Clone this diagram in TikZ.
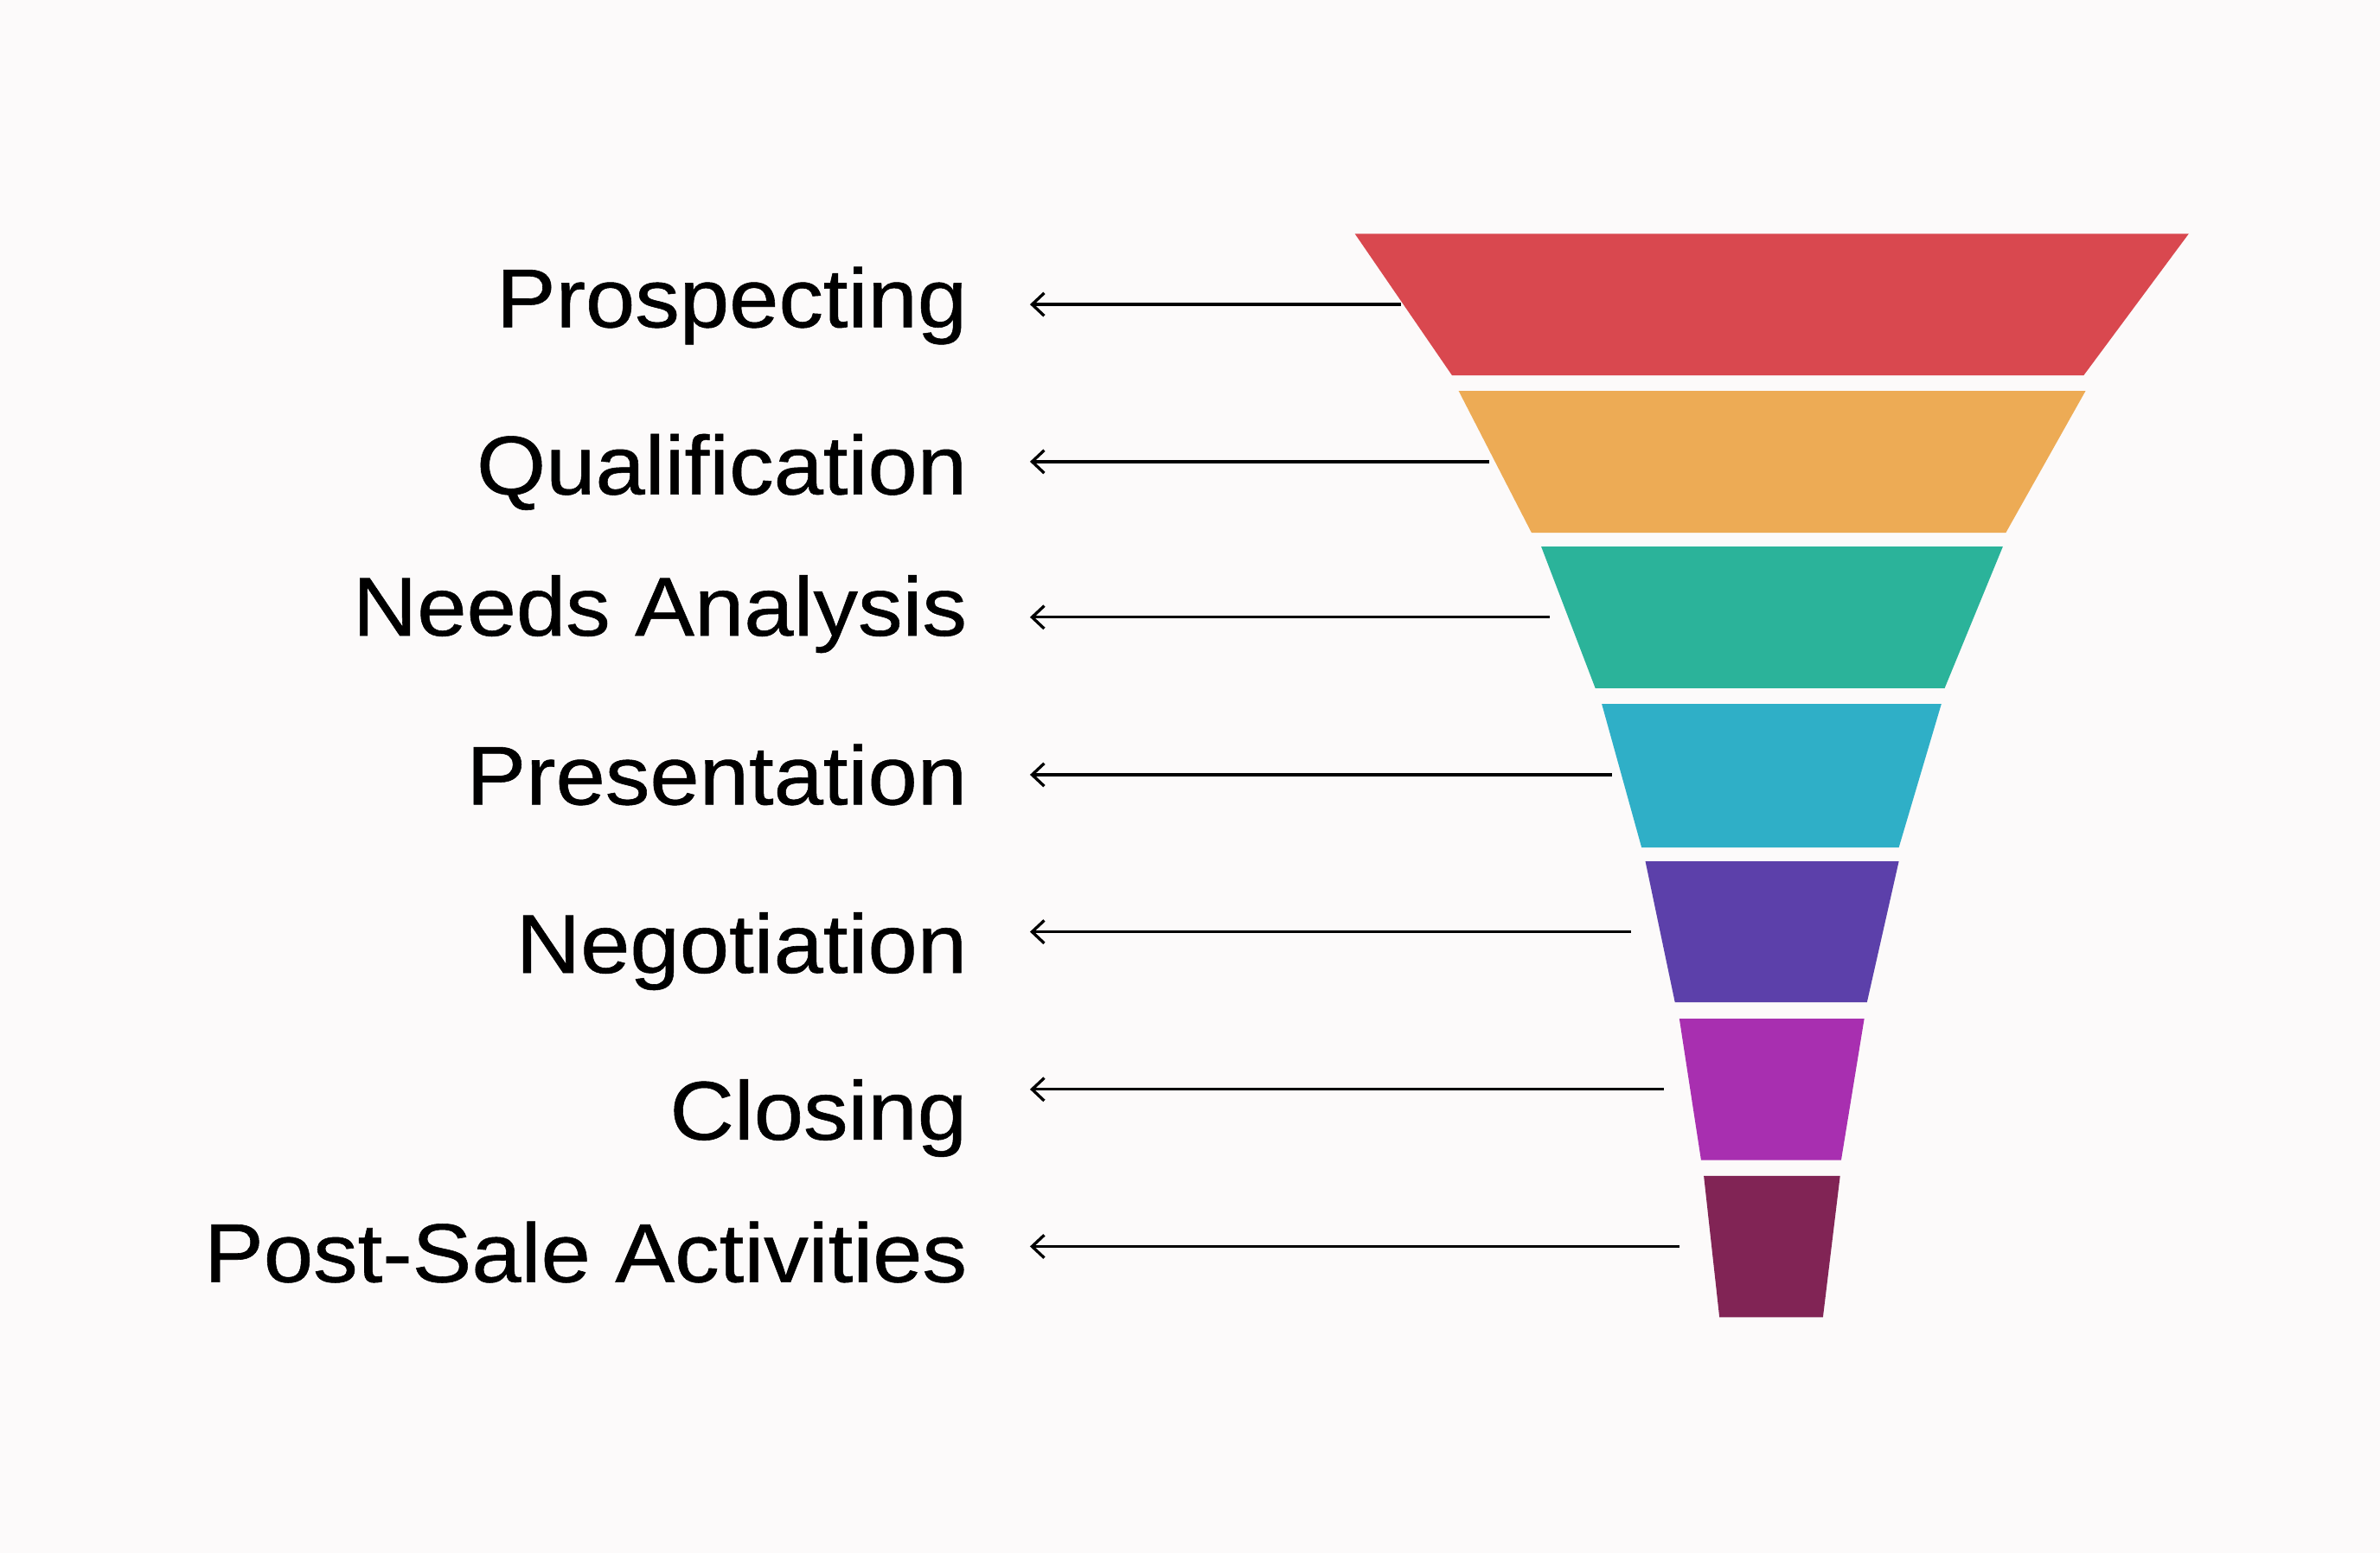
\documentclass[tikz,border=0pt]{standalone}
\usepackage{fontspec}
\setmainfont[FakeStretch=1.07,FakeBold=0.6]{Liberation Sans}
\usetikzlibrary{arrows.meta}

\definecolor{bgcol}{HTML}{FCFAFA}
\definecolor{stageA}{HTML}{D9484F}
\definecolor{stageB}{HTML}{EDAB55}
\definecolor{stageC}{HTML}{2BB39A}
\definecolor{stageD}{HTML}{2FAFC7}
\definecolor{stageE}{HTML}{5C40AA}
\definecolor{stageF}{HTML}{A82FB0}
\definecolor{stageG}{HTML}{812455}

\begin{document}
\begin{tikzpicture}[x=0.01755cm,y=-0.01755cm,
    every node/.style={anchor=base east,inner sep=0pt,font=\fontsize{27.4}{32}\selectfont},
    pointer/.style={draw=black,line width=0.95pt,shorten >=20.5pt}]
    \fill[bgcol] (0,0) rectangle (1568,1023.3);
    \useasboundingbox (0,0) rectangle (1568,1023.3);

    % funnel
    \fill[stageA] (892.6,154) -- (1442,154) -- (1372.8,247.3) -- (956.6,247.3) -- cycle;
    \fill[stageB] (961,257.6) -- (1374,257.6) -- (1321.5,351) -- (1009,351) -- cycle;
    \fill[stageC] (1015.4,360.2) -- (1319.5,360.2) -- (1281.2,453.4) -- (1051,453.4) -- cycle;
    \fill[stageD] (1055.3,463.9) -- (1279,463.9) -- (1251,558.4) -- (1081.5,558.4) -- cycle;
    \fill[stageE] (1084,567.5) -- (1251,567.5) -- (1230,660.5) -- (1103.5,660.5) -- cycle;
    \fill[stageF] (1106.4,671.3) -- (1228.2,671.3) -- (1213,764.4) -- (1120.7,764.4) -- cycle;
    \fill[stageG] (1122.5,774.8) -- (1212.3,774.8) -- (1201,868) -- (1132.8,868) -- cycle;

    % labels
    \node (prospecting) at (637.5,215.6) {Prospecting};
    \node (qualification) at (637.5,325.7) {Qualification};
    \node (needs) at (637.5,418.8) {Needs Analysis};
    \node (presentation) at (637.5,530.1) {Presentation};
    \node (negotiation) at (637.5,641) {Negotiation};
    \node (closing) at (637.5,750.9) {Closing};
    \node (postsale) at (637.5,844.7) {Post-Sale Activities};

    \coordinate (eA) at (923,200.6);
    \coordinate (eB) at (981,304.2);
    \coordinate (eC) at (1021,406.7);
    \coordinate (eD) at (1062,510.5);
    \coordinate (eE) at (1074.7,614);
    \coordinate (eF) at (1096,717.8);
    \coordinate (eG) at (1106.5,821.3);

    \path[-{Straight Barb[length=4pt,width=7.5pt]}] (eA) edge[pointer] (prospecting.east |- eA);
    \path[-{Straight Barb[length=4pt,width=7.5pt]}] (eB) edge[pointer] (qualification.east |- eB);
    \path[-{Straight Barb[length=4pt,width=7.5pt]}] (eC) edge[pointer] (needs.east |- eC);
    \path[-{Straight Barb[length=4pt,width=7.5pt]}] (eD) edge[pointer] (presentation.east |- eD);
    \path[-{Straight Barb[length=4pt,width=7.5pt]}] (eE) edge[pointer] (negotiation.east |- eE);
    \path[-{Straight Barb[length=4pt,width=7.5pt]}] (eF) edge[pointer] (closing.east |- eF);
    \path[-{Straight Barb[length=4pt,width=7.5pt]}] (eG) edge[pointer] (postsale.east |- eG);
  \end{tikzpicture}
\end{document}
